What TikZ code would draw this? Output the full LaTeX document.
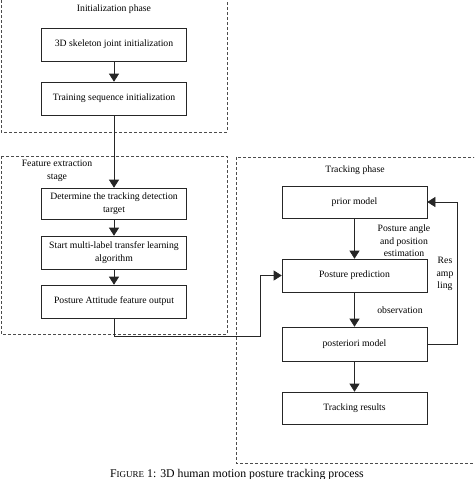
\documentclass[tikz,border=0pt]{standalone}
\usepackage{fontspec}
\setmainfont{Liberation Serif}
\usetikzlibrary{arrows.meta}
\tikzset{
	stepbox/.style={draw=black!85, line width=0.6pt, minimum width=145pt, minimum height=33pt, align=center, inner sep=1pt},
	phase/.style={draw=black!70, line width=0.6pt, dash pattern=on 3pt off 2pt},
	flow/.style={draw=black!85, line width=0.6pt, -{Triangle[width=10pt,length=8pt]}},
	lbl/.style={align=center, inner sep=0pt}
}
\begin{document}
\begin{tikzpicture}[x=1pt, y=-1pt, font=\fontsize{9.7}{12.5}\selectfont]
				\useasboundingbox (0,0) rectangle (474,479);
				\clip (0,0) rectangle (474,479);
				% phase frames
				\draw[phase] (1,-5) rectangle (227,132);
				\draw[phase] (1,156) rectangle (227,334);
				\draw[phase] (236,157) rectangle (480,463);
				
				\node[lbl] (initlbl) at (114,9) {Initialization phase};
				\node[lbl] (featlbl) at (57,171) {Feature extraction\\stage};
				\node[lbl] (tracklbl) at (355,170) {Tracking phase};
				
				% initialization
				\node[stepbox] (joint) at (114,44.5) {3D skeleton joint initialization};
				\node[stepbox] (train) at (114,98.5) {Training sequence initialization};
				% feature extraction
				\node[stepbox, minimum height=31pt] (target) at (114,203.5) {Determine the tracking detection\\target};
				\node[stepbox] (mlabel) at (114,252.5) {Start multi-label transfer learning\\algorithm};
				\node[stepbox] (fout) at (114,301.5) {Posture Attitude feature output};
				% tracking
				\node[stepbox, minimum height=32pt] (prior) at (354.5,202) {prior model};
				\node[stepbox] (ppred) at (354.5,275.5) {Posture prediction};
				\node[stepbox, minimum height=34pt] (post) at (354.5,344) {posteriori model};
				\node[stepbox, minimum height=32pt] (result) at (354.5,408) {Tracking results};
				
				\coordinate (bend) at (260,336);
				\coordinate (loop) at (457,344);
				
				\draw[flow] (joint) -- (train);
				\draw[flow] (train) -- (target);
				\draw[flow] (target) -- (mlabel);
				\draw[flow] (mlabel) -- (fout);
				\draw[flow] (fout.south) |- (bend) |- (ppred.west);
				\draw[flow] (prior) -- (ppred);
				\draw[flow] (ppred) -- (post);
				\draw[flow] (post) -- (result);
				\draw[flow] (post.east) -- (post.east -| loop) |- (prior.east);
				
				\node[lbl] (estlbl) at (404,241) {Posture angle\\and position\\estimation};
				\node[lbl] (obslbl) at (400,310) {observation};
				\node[lbl] (reslbl) at (445,274) {Res\\amp\\ling};
				
				\node[anchor=base, inner sep=0pt, font=\fontsize{11.8}{14}\selectfont] (caption) at (237,477) {F{\fontsize{9}{11}\selectfont IGURE} 1: 3D human motion posture tracking process};
			\end{tikzpicture}
\end{document}
